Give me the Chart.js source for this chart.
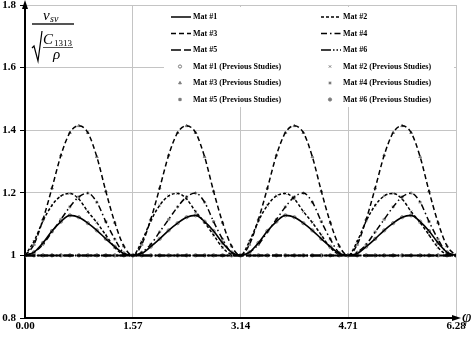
<!DOCTYPE html>
<html lang="en">
<head>
    <meta charset="UTF-8" />
    <title>Normalized SV wave velocity</title>
    <script src="https://cdn.jsdelivr.net/npm/chart.js"></script>
    <style>
        html, body { margin: 0; padding: 0; background: #fff; }
        .chart-box { width: 474px; height: 339px; }
    </style>
</head>
<body>
    <div class="chart-box"><canvas id="velocityChart" width="474" height="339"></canvas></div>

    <script>
        // angle phi (rad), sampled every pi/24
        const phi = [0.000, 0.131, 0.262, 0.393, 0.524, 0.654, 0.785, 0.916, 1.047, 1.178, 1.309, 1.440, 1.571,
                     1.702, 1.833, 1.963, 2.094, 2.225, 2.356, 2.487, 2.618, 2.749, 2.880, 3.011, 3.142,
                     3.272, 3.403, 3.534, 3.665, 3.796, 3.927, 4.058, 4.189, 4.320, 4.451, 4.581, 4.712,
                     4.843, 4.974, 5.105, 5.236, 5.367, 5.498, 5.629, 5.760, 5.890, 6.021, 6.152, 6.283];

        const mat1 = [1.000, 1.010, 1.040, 1.078, 1.108, 1.128, 1.122, 1.103, 1.080, 1.053, 1.028, 1.006,
                      1.000, 1.006, 1.028, 1.053, 1.080, 1.103, 1.122, 1.128, 1.108, 1.078, 1.040, 1.010,
                      1.000, 1.010, 1.040, 1.078, 1.108, 1.128, 1.122, 1.103, 1.080, 1.053, 1.028, 1.006,
                      1.000, 1.006, 1.028, 1.053, 1.080, 1.103, 1.122, 1.128, 1.108, 1.078, 1.040, 1.010, 1.000];
        const mat2 = [1.000, 1.045, 1.110, 1.160, 1.190, 1.198, 1.180, 1.140, 1.105, 1.065, 1.025, 1.003,
                      1.000, 1.045, 1.110, 1.160, 1.190, 1.198, 1.180, 1.140, 1.105, 1.065, 1.025, 1.003,
                      1.000, 1.045, 1.110, 1.160, 1.190, 1.198, 1.180, 1.140, 1.105, 1.065, 1.025, 1.003,
                      1.000, 1.045, 1.110, 1.160, 1.190, 1.198, 1.180, 1.140, 1.105, 1.065, 1.025, 1.003, 1.000];
        const mat3 = [1.000, 1.035, 1.115, 1.215, 1.320, 1.392, 1.414, 1.392, 1.315, 1.205, 1.105, 1.030,
                      1.000, 1.035, 1.115, 1.215, 1.320, 1.392, 1.414, 1.392, 1.315, 1.205, 1.105, 1.030,
                      1.000, 1.035, 1.115, 1.215, 1.320, 1.392, 1.414, 1.392, 1.315, 1.205, 1.105, 1.030,
                      1.000, 1.035, 1.115, 1.215, 1.320, 1.392, 1.414, 1.392, 1.315, 1.205, 1.105, 1.030, 1.000];
        const mat4 = [1.000, 1.010, 1.035, 1.075, 1.115, 1.155, 1.187, 1.199, 1.170, 1.108, 1.052, 1.008,
                      1.000, 1.010, 1.035, 1.075, 1.115, 1.155, 1.187, 1.199, 1.170, 1.108, 1.052, 1.008,
                      1.000, 1.010, 1.035, 1.075, 1.115, 1.155, 1.187, 1.199, 1.170, 1.108, 1.052, 1.008,
                      1.000, 1.010, 1.035, 1.075, 1.115, 1.155, 1.187, 1.199, 1.170, 1.108, 1.052, 1.008, 1.000];
        const mat5 = [1, 1, 1, 1, 1, 1, 1, 1, 1, 1, 1, 1, 1, 1, 1, 1, 1, 1, 1, 1, 1, 1, 1, 1, 1,
                      1, 1, 1, 1, 1, 1, 1, 1, 1, 1, 1, 1, 1, 1, 1, 1, 1, 1, 1, 1, 1, 1, 1, 1];
        const mat6 = [1, 1, 1, 1, 1, 1, 1, 1, 1, 1, 1, 1, 1, 1, 1, 1, 1, 1, 1, 1, 1, 1, 1, 1, 1,
                      1, 1, 1, 1, 1, 1, 1, 1, 1, 1, 1, 1, 1, 1, 1, 1, 1, 1, 1, 1, 1, 1, 1, 1];

        const xTickValues = [0, 1.571, 3.142, 4.712, 6.283];
        const xTickLabels = ['0.00', '1.57', '3.14', '4.71', '6.28'];
        const yTickLabels = ['0.8', '1', '1.2', '1.4', '1.6', '1.8'];

        const serif = '"Liberation Serif", "Times New Roman", serif';
        const markerGrey = '#7a7a7a';

        function lineSet(label, data, dash, width) {
            return {
                label: label, data: data,
                borderColor: '#000', backgroundColor: '#000',
                borderWidth: width, borderDash: dash,
                pointRadius: 0, cubicInterpolationMode: 'monotone', fill: false
            };
        }
        function markerSet(label, data, style) {
            return {
                label: label, data: data, showLine: false,
                pointStyle: style, pointRadius: 1.6, pointBorderWidth: 1,
                borderColor: markerGrey, backgroundColor: style === 'circle' && label.includes('#1') ? '#fff' : markerGrey
            };
        }

        // white box behind the legend, then legend, axis arrows and y title
        const decorations = {
            id: 'decorations',
            beforeDatasetsDraw(chart) {
                const ctx = chart.ctx;
                ctx.save();
                ctx.fillStyle = '#fff';
                ctx.fillRect(164, 7, 290, 100);
                ctx.restore();
            },
            afterDraw(chart) {
                const ctx = chart.ctx;
                const area = chart.chartArea;
                ctx.save();

                // legend, two columns
                ctx.font = 'bold 8px ' + serif;
                ctx.textBaseline = 'middle';
                chart.data.datasets.forEach((ds, i) => {
                    const x0 = i % 2 === 0 ? 171 : 321;
                    const y = 17 + Math.floor(i / 2) * 16.5;
                    if (ds.showLine === false) {
                        ctx.strokeStyle = ds.borderColor;
                        ctx.fillStyle = ds.backgroundColor;
                        ctx.lineWidth = 1;
                        Chart.helpers.drawPoint(ctx, { pointStyle: ds.pointStyle, radius: 1.6, rotation: 0, borderWidth: 1 }, x0 + 9, y);
                    } else {
                        ctx.strokeStyle = '#000';
                        ctx.lineWidth = 1.5;
                        ctx.setLineDash(ds.borderDash || []);
                        ctx.beginPath();
                        ctx.moveTo(x0, y);
                        ctx.lineTo(x0 + 20, y);
                        ctx.stroke();
                        ctx.setLineDash([]);
                    }
                    ctx.fillStyle = '#000';
                    ctx.fillText(ds.label, x0 + 22, y);
                });

                // axis arrows
                ctx.fillStyle = '#000';
                ctx.beginPath();
                ctx.moveTo(area.left, 0);
                ctx.lineTo(area.left - 3, 9);
                ctx.lineTo(area.left + 3, 9);
                ctx.closePath();
                ctx.fill();
                ctx.beginPath();
                ctx.moveTo(area.right + 5, area.bottom);
                ctx.lineTo(area.right - 4, area.bottom - 3);
                ctx.lineTo(area.right - 4, area.bottom + 3);
                ctx.closePath();
                ctx.fill();

                ctx.font = 'italic 17px ' + serif;
                ctx.textBaseline = 'alphabetic';
                ctx.fillText('\u03C6', area.right + 6, area.bottom + 4);

                // y title: v_sv / sqrt(C_1313 / rho)
                ctx.font = 'italic 15px ' + serif;
                ctx.fillText('v', 43, 20);
                ctx.font = 'italic 10px ' + serif;
                ctx.fillText('sv', 50, 22);
                ctx.fillStyle = '#555';
                ctx.fillRect(32, 23, 42, 2);
                ctx.strokeStyle = '#000';
                ctx.lineWidth = 1.2;
                ctx.beginPath();
                ctx.moveTo(32, 48);
                ctx.lineTo(34, 46);
                ctx.lineTo(38, 61);
                ctx.lineTo(42, 31);
                ctx.stroke();
                ctx.fillStyle = '#000';
                ctx.font = 'italic 15px ' + serif;
                ctx.fillText('C', 43, 44);
                ctx.font = '9px ' + serif;
                ctx.fillText('1313', 54, 46);
                ctx.fillStyle = '#555';
                ctx.fillRect(43, 47, 30, 1);
                ctx.fillStyle = '#000';
                ctx.font = 'italic 15px ' + serif;
                ctx.fillText('\u03C1', 53, 59);
                ctx.restore();
            }
        };

        new Chart(document.getElementById('velocityChart'), {
            type: 'line',
            data: {
                labels: phi,
                datasets: [
                    lineSet('Mat #1', mat1, [], 1.6),
                    lineSet('Mat #2', mat2, [3, 2], 1.5),
                    lineSet('Mat #3', mat3, [5, 3], 1.5),
                    lineSet('Mat #4', mat4, [6, 3, 1.5, 3], 1.5),
                    lineSet('Mat #5', mat5, [10, 3], 2),
                    lineSet('Mat #6', mat6, [10, 2, 1.5, 2, 1.5, 2], 2),
                    markerSet('Mat #1 (Previous Studies)', mat1, 'circle'),
                    markerSet('Mat #2 (Previous Studies)', mat2, 'crossRot'),
                    markerSet('Mat #3 (Previous Studies)', mat3, 'triangle'),
                    markerSet('Mat #4 (Previous Studies)', mat4, 'star'),
                    markerSet('Mat #5 (Previous Studies)', mat5, 'rect'),
                    markerSet('Mat #6 (Previous Studies)', mat6, 'circle')
                ]
            },
            options: {
                responsive: false,
                animation: false,
                devicePixelRatio: 1,
                layout: { padding: { top: 5, right: 18, left: 0, bottom: 0 } },
                plugins: { legend: { display: false }, tooltip: { enabled: false } },
                scales: {
                    x: {
                        type: 'linear', min: 0, max: 6.283,
                        afterBuildTicks: s => { s.ticks = xTickValues.map(v => ({ value: v })); },
                        afterFit: s => { s.height = 21; s.paddingLeft = 0; s.paddingRight = 0; },
                        ticks: {
                            callback: (v, i) => xTickLabels[i],
                            font: { family: serif, size: 11, weight: 'bold' },
                            color: '#000', padding: 2, maxRotation: 0, autoSkip: false
                        },
                        grid: { color: '#c4c4c4', drawTicks: false },
                        border: { color: '#000', width: 2 }
                    },
                    y: {
                        min: 0.8, max: 1.8,
                        afterFit: s => { s.width = 25; s.paddingTop = 0; s.paddingBottom = 0; },
                        ticks: {
                            stepSize: 0.2,
                            callback: (v, i) => yTickLabels[i],
                            font: { family: serif, size: 11, weight: 'bold' },
                            color: '#000', padding: 4
                        },
                        grid: { color: '#c4c4c4', tickColor: '#000', tickLength: 5 },
                        border: { color: '#000', width: 2 }
                    }
                }
            },
            plugins: [decorations]
        });
    </script>
</body>
</html>
